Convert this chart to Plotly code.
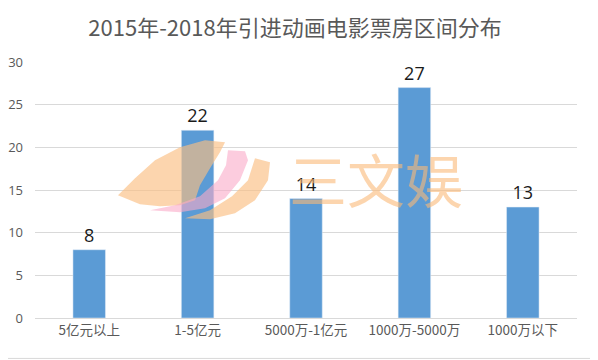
import plotly.graph_objects as go

categories = ["5亿元以上", "1-5亿元", "5000万-1亿元", "1000万-5000万", "1000万以下"]
values = [8, 22, 14, 27, 13]
y_ticks = [0, 5, 10, 15, 20, 25, 30]

OFF = 8  # page body margin
W, H = 598 - OFF, 360 - OFF
L, R, T, B = 35, 577, 61.5, 318  # reference pixel positions of plot area

def p(px, py):
    return ((px - L) / (R - L), (B - py) / (B - T))

def path(pts):
    s = ""
    for i, (a, b) in enumerate(pts):
        x, y = p(a, b)
        s += ("M" if i == 0 else "L") + f"{x:.4f},{y:.4f} "
    return s + "Z"

fig = go.Figure(go.Bar(
    x=categories, y=values, marker_color="#5B9BD5", width=0.3,
    text=[str(v) for v in values], textposition="outside",
    textfont=dict(size=18, color="#1a1a1a", family="Open Sans, DejaVu Sans"),
    cliponaxis=False,
))

orange = "rgba(250,190,130,0.65)"
pink = "rgba(250,170,200,0.6)"
bx0, by0 = p(8.5, 1.5)
bx1, by1 = p(595.5, 358.5)
shapes = [
    dict(type="path", xref="paper", yref="paper", fillcolor=orange, line_width=0, layer="above",
         path=path([(118,195),(135,178),(155,160),(180,147),(205,140),(225,142),(220,152),(210,168),(200,185),(195,200),(180,205),(160,206),(140,204)])),
    dict(type="path", xref="paper", yref="paper", fillcolor=pink, line_width=0, layer="above",
         path=path([(228,150),(245,151),(248,160),(240,180),(225,198),(205,208),(180,212),(150,210),(175,205),(200,196),(218,180),(226,165)])),
    dict(type="path", xref="paper", yref="paper", fillcolor=orange, line_width=0, layer="above",
         path=path([(255,158),(270,162),(268,180),(255,200),(235,213),(210,219),(185,218),(210,210),(232,196),(248,180)])),
    dict(type="path", xref="paper", yref="paper", line=dict(color="#D9D9D9", width=1), layer="below",
         path=f"M{bx0:.4f},{by0:.4f} L{bx1:.4f},{by0:.4f} L{bx1:.4f},{by1:.4f} L{p(1.5,0)[0]:.4f},{by1:.4f}"),
]

fig.update_layout(
    width=W, height=H,
    margin=dict(l=L - OFF, r=598 - R, t=T - OFF, b=360 - B),
    paper_bgcolor="white", plot_bgcolor="white",
    title=dict(text="2015年-2018年引进动画电影票房区间分布", x=(295 - OFF) / W, xanchor="center",
               y=1 - (28 - OFF) / H, yanchor="middle",
               font=dict(size=22, color="#595959", family="Noto Sans CJK SC")),
    font=dict(family="Noto Sans CJK SC", size=12, color="#595959"),
    bargap=0.7,
    showlegend=False,
    xaxis=dict(showgrid=False, showline=True, linecolor="#D9D9D9", linewidth=1, ticks="",
               automargin=False, tickfont=dict(size=13.5, color="#595959")),
    yaxis=dict(range=[0, 30], tickvals=y_ticks, showgrid=True, gridcolor="#D9D9D9", gridwidth=1,
               zeroline=False, showline=False, ticks="", ticklabelstandoff=11, automargin=False,
               tickfont=dict(size=13, color="#595959", family="Open Sans, DejaVu Sans")),
    shapes=shapes,
    annotations=[dict(text="三文娱", xref="paper", yref="paper", x=p(376, 178)[0], y=p(376, 178)[1],
                      showarrow=False, font=dict(size=58, color="rgba(250,185,120,0.6)", family="Noto Sans CJK SC"))],
)

fig.write_html("out.html")
